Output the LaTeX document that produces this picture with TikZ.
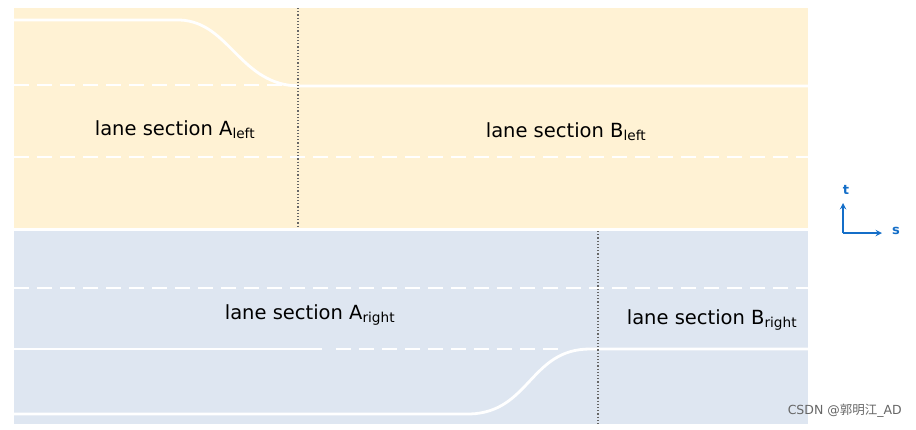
\documentclass[tikz,border=0pt]{standalone}
\usepackage{fontspec}
\setmainfont{DejaVu Sans}
\newfontfamily\cjk{Noto Sans CJK SC}
\definecolor{yel}{RGB}{255,242,212}
\definecolor{blu}{RGB}{222,230,241}
\definecolor{axb}{RGB}{20,110,200}
\begin{document}
\begin{tikzpicture}[x=1pt,y=-1pt,
  road/.style={white,line width=2.8pt},
  dashline/.style={white,line width=2.8pt,dash pattern=on 15pt off 8pt},
  sep/.style={gray!80!black,line width=1.2pt,dotted},
  lbl/.style={font=\fontsize{19.5}{22}\selectfont,inner sep=0pt}]
\useasboundingbox (0,0) rectangle (916,429);
\fill[yel] (14,8) rectangle (808,228);
\fill[blu] (14,231) rectangle (808,424);
% top
\draw[road] (14,20) -- (180,20) .. controls (230,22) and (240,86) .. (300,86) -- (808,86);
\draw[dashline] (14,85) -- (296,85);
\draw[dashline] (14,157) -- (808,157);
\draw[sep] (298,8) -- (298,228);
% bottom
\draw[dashline] (14,288) -- (808,288);
\draw[road] (14,349) -- (322,349);
\draw[dashline] (336,349) -- (560,349);
\draw[road] (14,414) -- (470,414) .. controls (530,412) and (530,349) .. (590,349) -- (808,349);
\draw[sep] (598,231) -- (598,424);
\node[lbl] (al) at (175,130) {lane section A\textsubscript{left}};
\node[lbl] (bl) at (566,132) {lane section B\textsubscript{left}};
\node[lbl] (ar) at (310,315) {lane section A\textsubscript{right}};
\node[lbl] (br) at (712,320) {lane section B\textsubscript{right}};
\coordinate (o) at (843,233);
\coordinate (t) at (843,203);
\coordinate (s) at (882,233);
\draw[axb,line width=1.8pt,-stealth] (o) -- (t);
\draw[axb,line width=1.8pt,-stealth] (o) -- (s);
\node[axb,font=\bfseries\fontsize{13}{14}\selectfont] (tl) at (846,190) {t};
\node[axb,font=\bfseries\fontsize{13}{14}\selectfont] (sl) at (896,231) {s};
\node[gray!80!black,font=\fontsize{12.5}{14}\selectfont,anchor=east,inner sep=0pt] (wm) at (902,411) {CSDN @{\cjk 郭明江}\_AD};
\end{tikzpicture}
\end{document}
